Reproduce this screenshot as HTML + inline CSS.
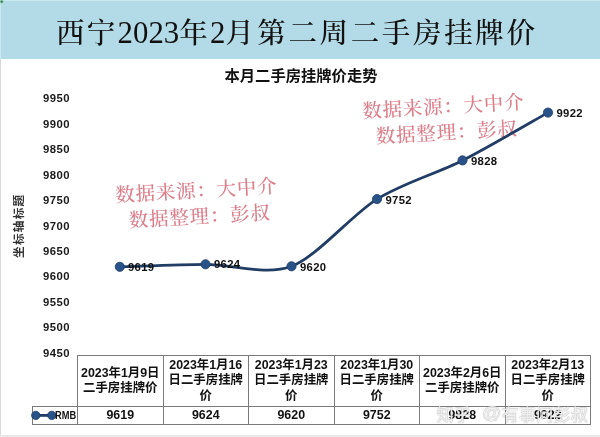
<!DOCTYPE html>
<html lang="zh-CN">
<head>
<meta charset="utf-8">
<title>西宁2023年2月第二周二手房挂牌价</title>
<style>
html,body{margin:0;padding:0;}
body{width:600px;height:437px;position:relative;overflow:hidden;background:#fff;}
.abs{position:absolute;white-space:nowrap;}
#lstrip{left:0;top:59px;width:1px;height:378px;background:#dadada;}
#bband{left:0;top:435px;width:600px;height:2px;background:#e9e9e9;}
#hdr{left:0;top:0;width:600px;height:59px;background:#b3dbe7;border-top:1px solid #c9e9f1;border-left:1px solid #c9e9f1;box-sizing:border-box;}
#title{left:56px;top:12.5px;font-family:"Liberation Serif","Noto Serif CJK SC",serif;font-size:30.8px;line-height:40px;color:#111;}
#title .c{font-size:28.5px;letter-spacing:2.3px;font-weight:500;}
#ctitle{left:224.5px;top:66px;font-family:"Liberation Sans","Noto Sans CJK SC",sans-serif;font-weight:bold;font-size:15.3px;line-height:20px;color:#111;}
.yl{font-family:"Liberation Sans","Noto Sans CJK SC",sans-serif;font-weight:bold;font-size:11.3px;line-height:12px;color:#1a1a1a;right:530px;letter-spacing:0.45px;}
#ytitle{left:12.5px;top:258px;transform-origin:0 0;font-family:"Liberation Sans","Noto Sans CJK SC",sans-serif;font-weight:bold;font-size:11.6px;line-height:12px;letter-spacing:1.3px;color:#333;}
.wmg{width:170px;height:50px;transform-origin:0 24px;transform:rotate(-3.3deg);}
.wm{font-family:"Liberation Serif","Noto Serif CJK SC",serif;font-size:19.5px;letter-spacing:0.8px;line-height:24px;font-weight:500;color:#dc7f8b;}
.dl{font-family:"Liberation Sans","Noto Sans CJK SC",sans-serif;font-weight:bold;font-size:11.3px;line-height:12px;color:#111;letter-spacing:0.3px;}
table{position:absolute;left:77px;top:355px;border-collapse:collapse;table-layout:fixed;}
td{border:1px solid #7a7a7a;padding:0;text-align:center;font-family:"Liberation Sans","Noto Sans CJK SC",sans-serif;font-weight:bold;font-size:12.4px;line-height:15.2px;color:#111;width:84.5px;}
tr.h td{height:50px;}
tr.d td{height:16px;padding-top:1px;}
#leg{left:32px;top:406px;width:44px;height:17px;border:1px solid #7a7a7a;border-right:none;}
.zh{top:401.5px;font-weight:500;font-family:"Liberation Sans","Noto Sans CJK SC",sans-serif;font-size:17.3px;line-height:26px;color:rgba(255,255,255,.85);text-shadow:0 0 1px rgba(0,0,0,.5);}
#rmb{left:55px;top:410.3px;font-size:10.3px;letter-spacing:0;transform-origin:0 0;transform:scaleX(0.9);}
</style>
</head>
<body>
<div class="abs" id="lstrip"></div>
<div class="abs" id="hdr"></div>
<div class="abs" style="left:0;top:0;width:4px;height:4px;background:radial-gradient(circle at 1.7px 1.7px,#2f6b4c 0,#5a9a78 0.9px,rgba(170,225,200,.6) 2px,rgba(190,235,215,0) 3px);"></div>
<div class="abs" id="title"><span class="c">西宁</span>2023<span class="c">年</span>2<span class="c">月</span><span class="c" style="letter-spacing:2.65px;margin-left:1px">第二周二手房挂牌价</span></div>
<div class="abs" id="ctitle">本月二手房挂牌价走势</div>

<div class="abs yl" style="top:92px">9950</div>
<div class="abs yl" style="top:118px">9900</div>
<div class="abs yl" style="top:143px">9850</div>
<div class="abs yl" style="top:169px">9800</div>
<div class="abs yl" style="top:194px">9750</div>
<div class="abs yl" style="top:220px">9700</div>
<div class="abs yl" style="top:245px">9650</div>
<div class="abs yl" style="top:270px">9600</div>
<div class="abs yl" style="top:296px">9550</div>
<div class="abs yl" style="top:321px">9500</div>
<div class="abs yl" style="top:347px">9450</div>

<div class="abs" id="ytitle" style="transform:rotate(-90deg);">坐标轴标题</div>

<div class="abs wmg" style="left:116px;top:183.5px"><div class="abs wm" style="left:0;top:0">数据来源：大中介</div><div class="abs wm" style="left:12px;top:26px">数据整理：彭叔</div></div>
<div class="abs wmg" style="left:363px;top:99.5px"><div class="abs wm" style="left:0;top:0">数据来源：大中介</div><div class="abs wm" style="left:12px;top:26px">数据整理：彭叔</div></div>

<svg class="abs" style="left:0;top:0" width="600" height="437" viewBox="0 0 600 437">
<path d="M119.8 266.8 C132.7 266.5 179.7 264.4 205.5 264.3 C231.3 264.2 265.8 276.1 291.5 266.3 C317.2 256.6 351.4 215.0 377.0 199.1 C402.6 183.2 436.9 173.4 462.5 160.4 C488.1 147.4 535.2 119.7 548.0 112.6" fill="none" stroke="#213d66" stroke-width="2.8" stroke-linecap="round"/>
<g fill="#285288" stroke="#1f3c63" stroke-width="0.8">
<circle cx="119.8" cy="266.8" r="4.6"/>
<circle cx="205.5" cy="264.3" r="4.6"/>
<circle cx="291.5" cy="266.3" r="4.6"/>
<circle cx="377" cy="199.1" r="4.6"/>
<circle cx="462.5" cy="160.4" r="4.6"/>
<circle cx="548" cy="112.6" r="4.6"/>
</g>
</svg>

<div class="abs dl" style="left:128px;top:261px">9619</div>
<div class="abs dl" style="left:214px;top:258px">9624</div>
<div class="abs dl" style="left:300px;top:260.5px">9620</div>
<div class="abs dl" style="left:385.5px;top:193.5px">9752</div>
<div class="abs dl" style="left:471px;top:154.5px">9828</div>
<div class="abs dl" style="left:556.5px;top:107px">9922</div>

<table>
<tr class="h">
<td>2023年1月9日<br>二手房挂牌价</td>
<td>2023年1月16<br>日二手房挂牌<br>价</td>
<td>2023年1月23<br>日二手房挂牌<br>价</td>
<td>2023年1月30<br>日二手房挂牌<br>价</td>
<td>2023年2月6日<br>二手房挂牌价</td>
<td>2023年2月13<br>日二手房挂牌<br>价</td>
</tr>
<tr class="d">
<td>9619</td><td>9624</td><td>9620</td><td>9752</td><td>9828</td><td>9922</td>
</tr>
</table>

<div class="abs" id="leg"></div>
<svg class="abs" style="left:28px;top:402px" width="30" height="27" viewBox="0 0 30 27">
<line x1="7.8" y1="13.4" x2="23.8" y2="13.4" stroke="#213d66" stroke-width="2.8"/>
<circle cx="7.8" cy="13.4" r="4.2" fill="#285288" stroke="#1f3c63" stroke-width="0.8"/>
<circle cx="23.8" cy="13.4" r="4.2" fill="#285288" stroke="#1f3c63" stroke-width="0.8"/>
</svg>
<div class="abs dl" id="rmb">RMB</div>
<div class="abs zh" style="left:436.5px">知乎</div><div class="abs zh" style="left:482px;font-size:19px;top:400px;font-weight:normal">@</div><div class="abs zh" style="left:501.5px">有事问彭叔</div>
<div class="abs" id="bband"></div>
</body>
</html>
